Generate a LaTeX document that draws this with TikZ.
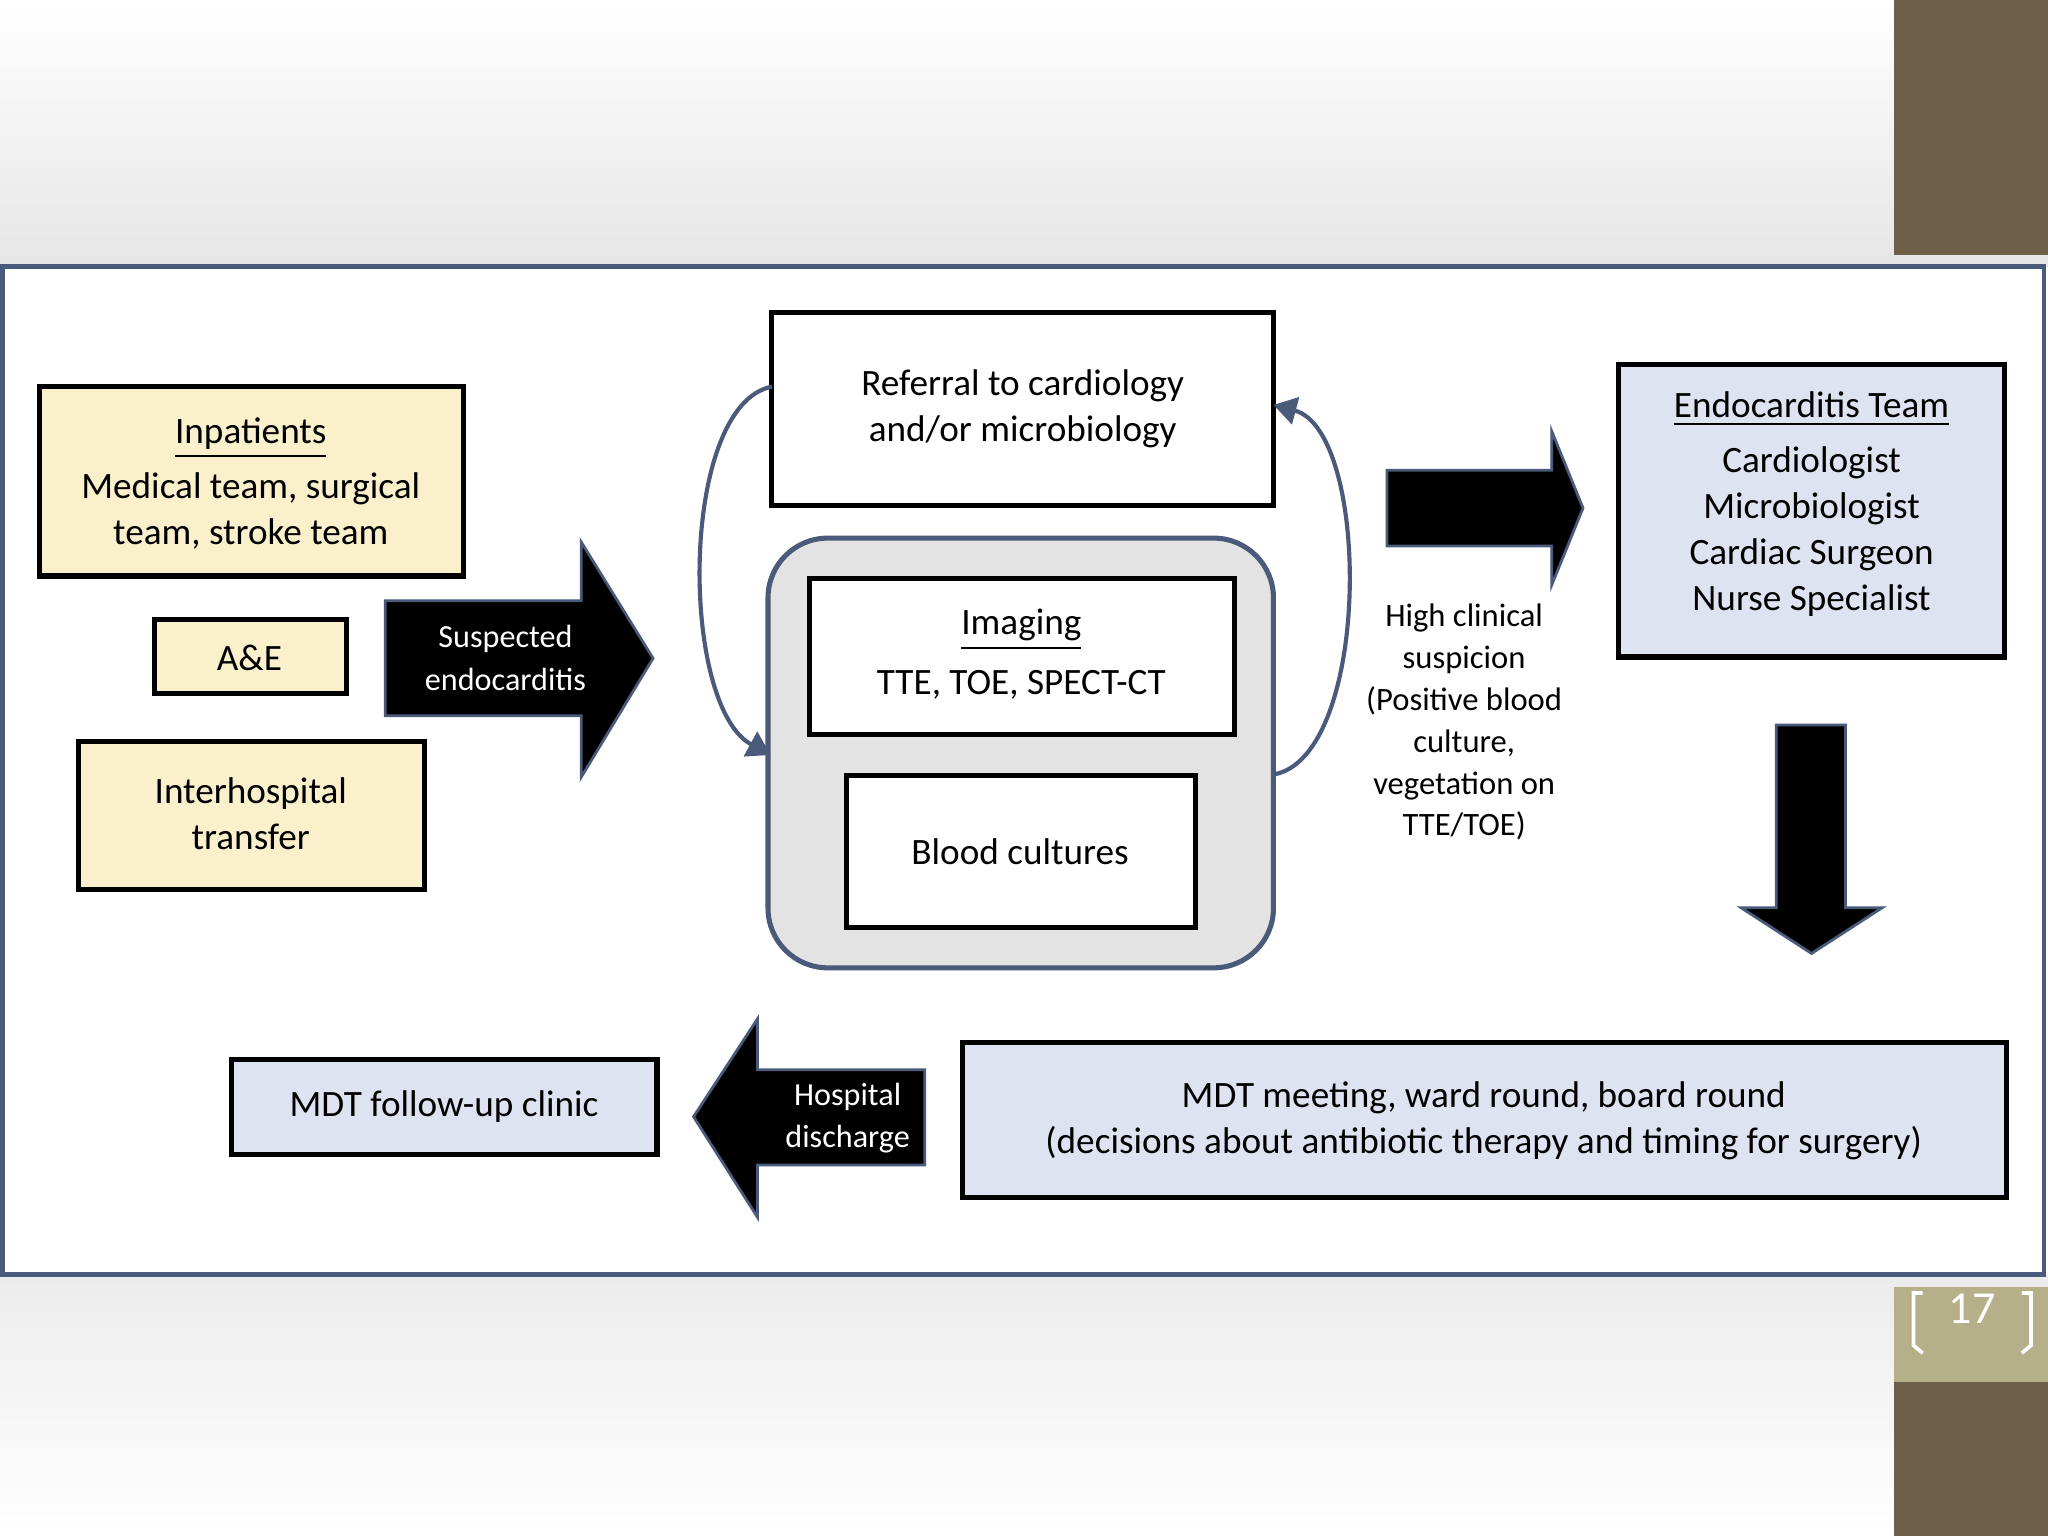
\documentclass[tikz,border=0pt]{standalone}
\usepackage{fontspec}
\setmainfont{Carlito}
\usetikzlibrary{arrows.meta}
\definecolor{olive}{HTML}{6E6048}
\definecolor{khaki}{HTML}{B5B08A}
\definecolor{cream}{HTML}{FBF0CC}
\definecolor{lblue}{HTML}{DDE3F0}
\definecolor{frame}{HTML}{4A5A7A}
\definecolor{gbox}{HTML}{E3E3E3}
\begin{document}
\begin{tikzpicture}[x=0.01cm,y=-0.01cm,
 box/.style={align=center,font=\fontsize{8.1}{10}\selectfont},
 blk/.style={fill=black,draw=frame,line width=0.6pt},
 wt/.style={text=white,align=center,font=\fontsize{7}{9.3}\selectfont},
 curv/.style={draw=frame,line width=0.9pt,-{Triangle[length=5pt,width=6pt]}}]
\useasboundingbox (0,0) rectangle (1568,1176);
\shade[top color=white,bottom color=gray!20] (0,0) rectangle (1568,204);
\shade[top color=gray!15,bottom color=white] (0,976) rectangle (1568,1176);
\fill[olive] (1450,0) rectangle (1568,195);
\fill[khaki] (1450,985) rectangle (1568,1058);
\fill[olive] (1450,1058) rectangle (1568,1176);
\node[text=white,font=\fontsize{10}{12}\selectfont] (num) at (1510,1002) {17};
\draw[white,line width=0.8pt] (1472,990) -- (1465,990) -- (1465,1030) -- (1472,1036);
\draw[white,line width=0.8pt] (1548,990) -- (1555,990) -- (1555,1030) -- (1548,1036);
\draw[frame,fill=white,line width=1pt] (2,204) rectangle (1565,976);
% left boxes
\draw[black,line width=1.1pt,fill=cream] (30,296) rectangle (355,441);
\node[box] (inpt) at (192,370) {\underline{Inpatients}\\[2pt]Medical team, surgical\\team, stroke team};
\draw[black,line width=1.1pt,fill=cream] (118,474) rectangle (265,531);
\node[box] (ae) at (191,504) {A\&E};
\draw[black,line width=1.1pt,fill=cream] (60,568) rectangle (325,681);
\node[box] (inter) at (192,623) {Interhospital\\transfer};
% suspected arrow
\fill[blk] (295,460) -- (445,460) -- (445,415) -- (500,504) -- (445,595) -- (445,548) -- (295,548) -- cycle;
\node[wt] (susp) at (387,504) {Suspected\\endocarditis};
% centre
\draw[black,line width=1.1pt,fill=white] (591,239) rectangle (975,387);
\node[box] (ref) at (783,313) {Referral to cardiology\\and/or microbiology};
\draw[frame,fill=gbox,line width=1.1pt,rounded corners=13pt] (588,412) rectangle (975,741);
\draw[black,line width=1.1pt,fill=white] (620,443) rectangle (945,562);
\node[box] (img) at (782,501) {\underline{Imaging}\\[3pt]TTE, TOE, SPECT-CT};
\draw[black,line width=1.1pt,fill=white] (648,594) rectangle (915,710);
\node[box] (bc) at (781,652) {Blood cultures};
\coordinate (rl) at (591,296); \coordinate (gl) at (590,578);
\coordinate (gr) at (975,593); \coordinate (rr) at (975,310);
\draw[curv] (rl) .. controls (520,310) and (520,540) .. (gl);
\draw[curv] (gr) .. controls (1050,580) and (1050,330) .. (rr);
% right arrow
\fill[blk] (1062,360) -- (1188,360) -- (1188,330) -- (1212,389) -- (1188,448) -- (1188,418) -- (1062,418) -- cycle;
\node[align=center,font=\fontsize{7.1}{9.1}\selectfont] (hcs) at (1121,553) {High clinical\\suspicion\\(Positive blood\\culture,\\vegetation on\\TTE/TOE)};
\draw[black,line width=1.1pt,fill=lblue] (1239,279) rectangle (1535,503);
\node[box] (team) at (1387,386) {\underline{Endocarditis Team}\\[2pt]Cardiologist\\Microbiologist\\Cardiac Surgeon\\Nurse Specialist};
% down arrow
\fill[blk] (1360,555) -- (1413,555) -- (1413,695) -- (1441,695) -- (1387,730) -- (1333,695) -- (1360,695) -- cycle;
\draw[black,line width=1.1pt,fill=lblue] (737,798) rectangle (1536,917);
\node[box] (mdt) at (1136,858) {MDT meeting, ward round, board round\\(decisions about antibiotic therapy and timing for surgery)};
% left arrow
\fill[blk] (708,819) -- (580,819) -- (580,780) -- (531,855) -- (580,932) -- (580,892) -- (708,892) -- cycle;
\node[wt] (hd) at (649,856) {Hospital\\discharge};
\draw[black,line width=1.1pt,fill=lblue] (177,811) rectangle (503,884);
\node[box] (fu) at (340,847) {MDT follow-up clinic};
\end{tikzpicture}
\end{document}
